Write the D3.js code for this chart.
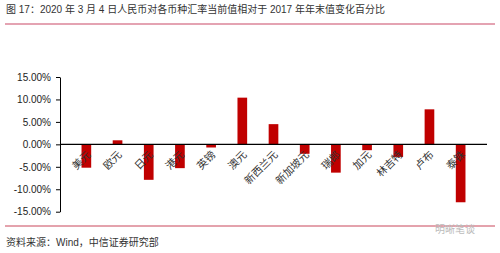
<!DOCTYPE html>
<html>
<head>
<meta charset="utf-8">
<script src="https://cdn.jsdelivr.net/npm/d3@7"></script>
<style>
body { margin: 0; background: #fff; }
text { font-family: "Liberation Sans", Arial, "Noto Sans CJK SC", sans-serif; }
</style>
</head>
<body>
<svg width="500" height="253"></svg>
<script>
var titleText = "图 17：2020 年 3 月 4 日人民币对各币种汇率当前值相对于 2017 年年末值变化百分比";
var sourceText = "资料来源：Wind，中信证券研究部";
var currencies = ["美元", "欧元", "日元", "港元", "英镑", "澳元", "新西兰元", "新加坡元", "瑞郎", "加元", "林吉特", "卢布", "泰铢"];
var changes = [-5.2, 0.9, -7.9, -5.3, -0.7, 10.4, 4.5, -2.1, -6.3, -1.3, -2.8, 7.8, -12.9];
var yTicks = [-15, -10, -5, 0, 5, 10, 15];

var svg = d3.select("svg");
var cjk = '"Noto Sans CJK SC", sans-serif';

svg.append("text")
  .attr("x", 6)
  .attr("y", 13)
  .attr("font-size", 10)
  .attr("font-family", cjk)
  .attr("fill", "#333")
  .text(titleText);

svg.append("line")
  .attr("x1", 5).attr("x2", 495)
  .attr("y1", 24).attr("y2", 24)
  .attr("stroke", "#e4a3b2")
  .attr("stroke-width", 2);

var x = d3.scaleBand().domain(currencies).range([60, 487]).padding(0.69);
var y = d3.scaleLinear().domain([-15, 15]).range([211.7, 77]);

// y axis
var yAxis = svg.append("g")
  .attr("transform", "translate(60,0)")
  .call(d3.axisLeft(y).tickValues(yTicks).tickSize(4).tickSizeOuter(0)
    .tickFormat(function(d) { return d.toFixed(2) + "%"; }));
yAxis.select(".domain").attr("stroke", "#000");
yAxis.selectAll(".tick line").attr("stroke", "#000");
yAxis.selectAll(".tick text")
  .attr("font-size", 10)
  .attr("fill", "#222")
  .attr("x", -9)
  .attr("font-family", '"Liberation Sans", Arial, sans-serif');

// bars
svg.selectAll(".bar")
  .data(changes)
  .enter()
  .append("rect")
  .attr("class", "bar")
  .attr("x", function(d, i) { return x(currencies[i]); })
  .attr("width", x.bandwidth())
  .attr("y", function(d) { return y(Math.max(0, d)); })
  .attr("height", function(d) { return Math.abs(y(d) - y(0)); })
  .attr("fill", "#c00000");

// zero line
svg.append("line")
  .attr("x1", 60).attr("x2", 487)
  .attr("y1", y(0)).attr("y2", y(0))
  .attr("stroke", "#000")
  .attr("stroke-width", 1.3);

// category labels, rotated
svg.selectAll(".cat")
  .data(currencies)
  .enter()
  .append("text")
  .attr("class", "cat")
  .attr("text-anchor", "end")
  .attr("font-size", 10.5)
  .attr("font-family", cjk)
  .attr("fill", "#333")
  .attr("transform", function(d) {
    var cx = x(d) + x.bandwidth() / 2 + 5;
    return "translate(" + cx + "," + (y(0) + 11) + ") rotate(-45)";
  })
  .text(function(d) { return d; });

// bottom rule
svg.append("line")
  .attr("x1", 5).attr("x2", 495)
  .attr("y1", 226).attr("y2", 226)
  .attr("stroke", "#c9475a")
  .attr("stroke-width", 1);

svg.append("text")
  .attr("x", 435)
  .attr("y", 233)
  .attr("font-size", 10)
  .attr("font-family", cjk)
  .attr("fill", "#bbb")
  .text("明晰笔谈");

svg.append("text")
  .attr("x", 6)
  .attr("y", 246)
  .attr("font-size", 10)
  .attr("font-family", cjk)
  .attr("fill", "#333")
  .text(sourceText);
</script>
</body>
</html>
